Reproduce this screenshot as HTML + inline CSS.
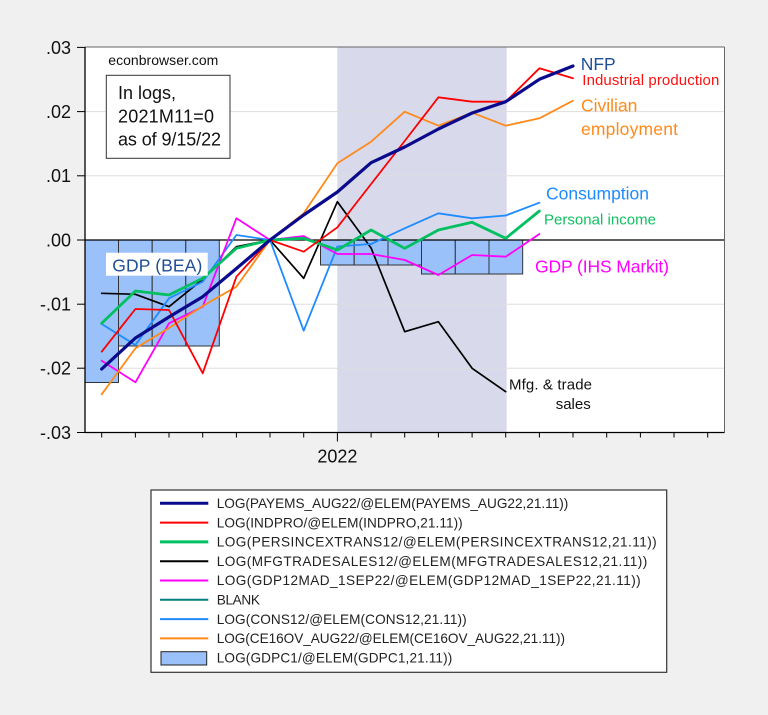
<!DOCTYPE html>
<html>
<head>
<meta charset="utf-8">
<style>
html,body{margin:0;padding:0;background:#F0F0F0;}
svg{display:block;}
text{font-family:"Liberation Sans",Arial,sans-serif;}
</style>
</head>
<body>
<svg width="768" height="715" viewBox="0 0 768 715" xmlns="http://www.w3.org/2000/svg">
<rect x="0" y="0" width="768" height="715" fill="#F0F0F0"/>
<!-- plot area -->
<rect x="85" y="47" width="639.5" height="385.5" fill="#FFFFFF"/>
<!-- shading -->
<rect x="337.3" y="47" width="169.4" height="385.5" fill="#D9D9EC"/>
<!-- gridlines -->
<g stroke="#DDDDDD" stroke-width="1">
<line x1="85" y1="111.6" x2="724.5" y2="111.6"/>
<line x1="85" y1="175.8" x2="724.5" y2="175.8"/>
<line x1="85" y1="304.2" x2="724.5" y2="304.2"/>
<line x1="85" y1="368.2" x2="724.5" y2="368.2"/>
</g>
<!-- bars -->
<g fill="#9BC1FB" stroke="#333333" stroke-width="1">
<rect x="85" y="240" width="33.5" height="142.5"/>
<rect x="118.5" y="240" width="33.7" height="106"/>
<rect x="152.2" y="240" width="33.6" height="106"/>
<rect x="185.8" y="240" width="33.5" height="106"/>
<rect x="320.5" y="240" width="33.7" height="25"/>
<rect x="354.2" y="240" width="33.8" height="25"/>
<rect x="388" y="240" width="33.5" height="25"/>
<rect x="421.5" y="240" width="33.8" height="34"/>
<rect x="455.3" y="240" width="33.7" height="34"/>
<rect x="489" y="240" width="33.7" height="34"/>
</g>
<!-- zero line -->
<line x1="85" y1="240" x2="724.5" y2="240" stroke="#000" stroke-width="1.2"/>
<!-- series -->
<g fill="none" stroke-linejoin="round" stroke-linecap="round">
<!-- black MTS -->
<polyline stroke="#000000" stroke-width="1.7" points="101.7,293.3 135.4,294.3 169.0,306.7 202.7,279.3 236.4,246.7 270.0,240 303.7,278.3 337.4,201.7 371.1,248 404.7,331.7 438.4,321.7 472.1,368.3 505.7,391.7"/>
<!-- consumption -->
<polyline stroke="#1E8CFF" stroke-width="1.8" points="101.7,324 135.4,345 169.0,298.3 202.7,281.7 236.4,235 270.0,240 303.7,330.7 337.4,246.5 371.1,244 404.7,228.3 438.4,213.3 472.1,218.3 505.7,215.5 539.4,202.7"/>
<!-- magenta -->
<polyline stroke="#FF00FF" stroke-width="1.8" points="101.7,360.7 135.4,382.3 169.0,323.3 202.7,306.7 236.4,218.3 270.0,240 303.7,236 337.4,254 371.1,254 404.7,260 438.4,275 472.1,255 505.7,256.7 539.4,234"/>
<!-- orange -->
<polyline stroke="#FF8A1A" stroke-width="1.8" points="101.7,394.3 135.4,348.3 169.0,328 202.7,306 236.4,286.7 270.0,240 303.7,213.3 337.4,163.3 371.1,141.7 404.7,111.7 438.4,125.7 472.1,112.7 505.7,125.7 539.4,118.3 573.0,100.7"/>
<!-- green -->
<polyline stroke="#00C060" stroke-width="2.8" points="101.7,323.3 135.4,291 169.0,295 202.7,278.3 236.4,248.3 270.0,240 303.7,238.3 337.4,250 371.1,230 404.7,248.3 438.4,230 472.1,222.3 505.7,238.3 539.4,211"/>
<!-- red -->
<polyline stroke="#FF0000" stroke-width="1.8" points="101.7,351.7 135.4,309 169.0,310 202.7,373.3 236.4,276.7 270.0,240 303.7,251.7 337.4,227.3 371.1,184 404.7,141 438.4,97.3 472.1,101.7 505.7,101.7 539.4,68.3 573.0,78.3"/>
<!-- navy NFP -->
<polyline stroke="#0A0A8C" stroke-width="3.2" points="101.7,369 135.4,338 169.0,317 202.7,296.7 236.4,268.5 270.0,240 303.7,215 337.4,192 371.1,162.7 404.7,147 438.4,129 472.1,113 505.7,101.7 539.4,79.3 573.0,66"/>
</g>
<!-- frame -->
<line x1="85" y1="47" x2="724.5" y2="47" stroke="#666" stroke-width="1"/>
<line x1="724.5" y1="47" x2="724.5" y2="432.5" stroke="#666" stroke-width="1"/>
<line x1="85" y1="47" x2="85" y2="432.5" stroke="#000" stroke-width="1.3"/>
<line x1="85" y1="432.5" x2="724.5" y2="432.5" stroke="#000" stroke-width="1.3"/>
<!-- y ticks -->
<g stroke="#000" stroke-width="1">
<line x1="77" y1="47.4" x2="85" y2="47.4"/>
<line x1="77" y1="111.6" x2="85" y2="111.6"/>
<line x1="77" y1="175.8" x2="85" y2="175.8"/>
<line x1="77" y1="240" x2="85" y2="240"/>
<line x1="77" y1="304.2" x2="85" y2="304.2"/>
<line x1="77" y1="368.2" x2="85" y2="368.2"/>
<line x1="77" y1="432.5" x2="85" y2="432.5"/>
</g>
<g font-size="18" fill="#111" text-anchor="end">
<text x="71" y="53.8">.03</text>
<text x="71" y="118">.02</text>
<text x="71" y="182.2">.01</text>
<text x="71" y="246.4">.00</text>
<text x="71" y="310.6">-.01</text>
<text x="71" y="374.6">-.02</text>
<text x="71" y="438.9">-.03</text>
</g>
<!-- x ticks -->
<g stroke="#000" stroke-width="1">
<line x1="101.7" y1="432.5" x2="101.7" y2="437.5"/>
<line x1="135.4" y1="432.5" x2="135.4" y2="437.5"/>
<line x1="169.0" y1="432.5" x2="169.0" y2="437.5"/>
<line x1="202.7" y1="432.5" x2="202.7" y2="437.5"/>
<line x1="236.4" y1="432.5" x2="236.4" y2="437.5"/>
<line x1="270.0" y1="432.5" x2="270.0" y2="437.5"/>
<line x1="303.7" y1="432.5" x2="303.7" y2="437.5"/>
<line x1="337.4" y1="432.5" x2="337.4" y2="441.5"/>
<line x1="371.1" y1="432.5" x2="371.1" y2="437.5"/>
<line x1="404.7" y1="432.5" x2="404.7" y2="437.5"/>
<line x1="438.4" y1="432.5" x2="438.4" y2="437.5"/>
<line x1="472.1" y1="432.5" x2="472.1" y2="437.5"/>
<line x1="505.7" y1="432.5" x2="505.7" y2="437.5"/>
<line x1="539.4" y1="432.5" x2="539.4" y2="437.5"/>
<line x1="573.0" y1="432.5" x2="573.0" y2="437.5"/>
<line x1="606.7" y1="432.5" x2="606.7" y2="437.5"/>
<line x1="640.4" y1="432.5" x2="640.4" y2="437.5"/>
<line x1="674.0" y1="432.5" x2="674.0" y2="437.5"/>
<line x1="707.7" y1="432.5" x2="707.7" y2="437.5"/>
</g>
<text x="337.4" y="462.3" font-size="18" fill="#111" text-anchor="middle">2022</text>
<!-- annotations -->
<text x="108.3" y="65" font-size="14" fill="#111" textLength="110">econbrowser.com</text>
<rect x="106.3" y="75.3" width="123.7" height="83" fill="#FFFFFF" stroke="#333" stroke-width="1"/>
<g font-size="18" fill="#111">
<text x="118" y="99">In logs,</text>
<text x="118" y="122.3" textLength="96">2021M11=0</text>
<text x="118" y="145.7" textLength="103">as of 9/15/22</text>
</g>
<rect x="106" y="252.7" width="101.7" height="23" fill="#FFFFFF"/>
<text x="112.3" y="271.7" font-size="17.5" fill="#1F4E96" textLength="90">GDP (BEA)</text>
<text x="580.7" y="70" font-size="17.5" fill="#1F4E96" textLength="35">NFP</text>
<text x="582.3" y="85" font-size="15" fill="#FF1010" textLength="137">Industrial production</text>
<text x="581" y="111.7" font-size="17.5" fill="#FF8A1A">Civilian</text>
<text x="581" y="135" font-size="17.5" fill="#FF8A1A" textLength="97">employment</text>
<text x="546" y="199.3" font-size="17.5" fill="#1E8CFF" textLength="103">Consumption</text>
<text x="544" y="224.3" font-size="15" fill="#10C060" textLength="112">Personal income</text>
<text x="535" y="272.7" font-size="17.5" fill="#FF00FF" textLength="134">GDP (IHS Markit)</text>
<text x="509" y="389.3" font-size="15" fill="#111" textLength="83">Mfg. &amp; trade</text>
<text x="555.7" y="409" font-size="15" fill="#111">sales</text>
<!-- legend -->
<rect x="151" y="490" width="515.7" height="182.3" fill="#FFFFFF" stroke="#333" stroke-width="1.2"/>
<g fill="none">
<line x1="160" y1="503.3" x2="208.3" y2="503.3" stroke="#0A0A8C" stroke-width="3"/>
<line x1="160" y1="522.6" x2="208.3" y2="522.6" stroke="#FF0000" stroke-width="2"/>
<line x1="160" y1="541.9" x2="208.3" y2="541.9" stroke="#00C060" stroke-width="3"/>
<line x1="160" y1="561.2" x2="208.3" y2="561.2" stroke="#000000" stroke-width="2"/>
<line x1="160" y1="580.5" x2="208.3" y2="580.5" stroke="#FF00FF" stroke-width="2"/>
<line x1="160" y1="599.8" x2="208.3" y2="599.8" stroke="#008080" stroke-width="2"/>
<line x1="160" y1="619.1" x2="208.3" y2="619.1" stroke="#1E8CFF" stroke-width="2"/>
<line x1="160" y1="638.4" x2="208.3" y2="638.4" stroke="#FF8A1A" stroke-width="2"/>
</g>
<rect x="161" y="651.7" width="45.7" height="13.3" fill="#9BC1FB" stroke="#222" stroke-width="1"/>
<g font-size="13.6" fill="#222">
<text x="216.7" y="508" textLength="351.6">LOG(PAYEMS_AUG22/@ELEM(PAYEMS_AUG22,21.11))</text>
<text x="216.7" y="527.3" textLength="246">LOG(INDPRO/@ELEM(INDPRO,21.11))</text>
<text x="216.7" y="546.6" textLength="440">LOG(PERSINCEXTRANS12/@ELEM(PERSINCEXTRANS12,21.11))</text>
<text x="216.7" y="565.9" textLength="430.6">LOG(MFGTRADESALES12/@ELEM(MFGTRADESALES12,21.11))</text>
<text x="216.7" y="585.2" textLength="424">LOG(GDP12MAD_1SEP22/@ELEM(GDP12MAD_1SEP22,21.11))</text>
<text x="216.7" y="604.5" textLength="43.3">BLANK</text>
<text x="216.7" y="623.8" textLength="250">LOG(CONS12/@ELEM(CONS12,21.11))</text>
<text x="216.7" y="643.1" textLength="348.3">LOG(CE16OV_AUG22/@ELEM(CE16OV_AUG22,21.11))</text>
<text x="216.7" y="662.4" textLength="235.6">LOG(GDPC1/@ELEM(GDPC1,21.11))</text>
</g>
</svg>
</body>
</html>
